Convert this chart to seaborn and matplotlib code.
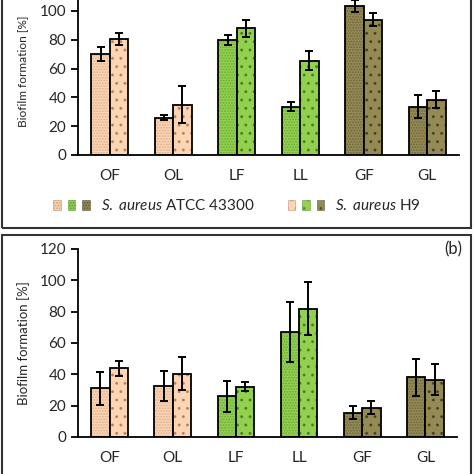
import pandas as pd
import matplotlib
matplotlib.use("Agg")
import matplotlib.pyplot as plt
import matplotlib.patches as mpatches
from matplotlib.colors import to_rgba
from matplotlib.legend_handler import HandlerTuple
import seaborn as sns

samples = ["OF", "OL", "LF", "LL", "GF", "GL"]
strains = ["S. aureus ATCC 43300", "S. aureus H9"]

# panel (a)
a_atcc = [70, 26, 80, 33.5, 103.5, 33.5]
a_atcc_err = [5, 2, 3.5, 3, 4, 8]
a_h9 = [80.5, 35, 88, 65.5, 94, 38.5]
a_h9_err = [4, 13, 6, 6.5, 4.5, 6]

# panel (b)
b_atcc = [31, 32.5, 26, 67, 15.5, 38]
b_atcc_err = [10.5, 9.7, 10, 19, 4, 12]
b_h9 = [44, 40.5, 32, 82, 18.7, 36.5]
b_h9_err = [4.8, 10.5, 2.8, 17, 4.3, 10]

fills = {"O": "#FCD5B5", "L": "#92D050", "G": "#948A54"}
dots = {"O": "#B07A50", "L": "#3E7A12", "G": "#3F3820"}
hatches = ["......", ".."]
hatch_alpha = [0.4, 0.8]

sns.set_style("white")
plt.rcParams["font.family"] = ["Lato", "DejaVu Sans"]
plt.rcParams["mathtext.fontset"] = "custom"
plt.rcParams["mathtext.it"] = "Lato:italic"
plt.rcParams["mathtext.rm"] = "Lato"
plt.rcParams["hatch.linewidth"] = 0.9

fig = plt.figure(figsize=(4.74, 4.74), dpi=100)
ax_a = fig.add_axes([78 / 474, 1 - 155 / 474, 381 / 474, 172.8 / 474])
ax_b = fig.add_axes([78 / 474, 1 - 437 / 474, 379 / 474, 188 / 474])


def draw_panel(ax, atcc, atcc_err, h9, h9_err, ymax_tick):
    df = pd.DataFrame({
        "sample": samples * 2,
        "strain": [strains[0]] * 6 + [strains[1]] * 6,
        "value": atcc + h9,
    })
    sns.barplot(data=df, x="sample", y="value", hue="strain", order=samples,
                hue_order=strains, width=0.58, errorbar=None, legend=False,
                edgecolor="black", linewidth=1.3, ax=ax)
    vals = atcc + h9
    errs = atcc_err + h9_err
    bars = [p for p in ax.patches if isinstance(p, mpatches.Rectangle)][:12]
    for i, p in enumerate(bars):
        key = samples[i % 6][0]
        s = 0 if i < 6 else 1
        p.set_facecolor(fills[key])
        p.set_hatch(hatches[s])
        p._hatch_color = to_rgba(dots[key], hatch_alpha[s])
        ax.errorbar(p.get_x() + p.get_width() / 2, vals[i], yerr=errs[i],
                    color="black", capsize=3, elinewidth=1.4, capthick=1.4,
                    zorder=5)
    ax.set_xlim(-0.5, 5.5)
    ax.set_ylim(0, 120)
    ax.set_yticks(range(0, ymax_tick + 1, 20))
    ax.set_xticks([i - 0.5 for i in range(7)], minor=True)
    ax.tick_params(axis="x", which="major", length=0, labelsize=11, pad=10)
    ax.tick_params(axis="x", which="minor", length=5, width=1.3,
                   direction="out", color="black")
    ax.tick_params(axis="y", length=5, width=1.3, direction="out",
                   color="black", labelsize=11, left=True)
    ax.set_xlabel("")
    ax.set_ylabel("Biofilm formation [%]", fontsize=9.5, labelpad=7)
    sns.despine(ax=ax)
    for s in ["left", "bottom"]:
        ax.spines[s].set_color("black")
        ax.spines[s].set_linewidth(1.3)


draw_panel(ax_a, a_atcc, a_atcc_err, a_h9, a_h9_err, 100)
draw_panel(ax_b, b_atcc, b_atcc_err, b_h9, b_h9_err, 120)
# the cropped top panel: keep its y label inside the picture
ax_a.yaxis.label.set_fontsize(8.6)
ax_a.yaxis.set_label_coords(-0.13, 0.486)

# legend under panel (a)
handles = []
for s in range(2):
    handles.append(tuple(
        mpatches.Patch(facecolor=fills[k], edgecolor=to_rgba(dots[k], 0.6),
                       hatch=hatches[s], linewidth=0.5)
        for k in ["O", "L", "G"]))
labels = [r"$\it{S.\ aureus}$ ATCC 43300", r"$\it{S.\ aureus}$ H9"]
fig.legend(handles, labels, loc="center", bbox_to_anchor=(0.5, 1 - 206 / 474),
           ncol=2, frameon=False, fontsize=11, handlelength=2.4,
           handleheight=0.55, columnspacing=2.2, handletextpad=0.7,
           handler_map={tuple: HandlerTuple(ndivide=None, pad=0.45)})

fig.text(0.975, 1 - 249 / 474, "(b)", ha="right", va="center", fontsize=12)

# panel frames
for rect in [(2, -10, 469, 238), (2, 235, 469, 260)]:
    x, y, w, h = rect
    fig.patches.append(mpatches.Rectangle(
        (x / 474, 1 - (y + h) / 474), w / 474, h / 474, fill=False,
        edgecolor="#333333", linewidth=1.5, transform=fig.transFigure,
        figure=fig))

fig.savefig("out.png", dpi=100)
